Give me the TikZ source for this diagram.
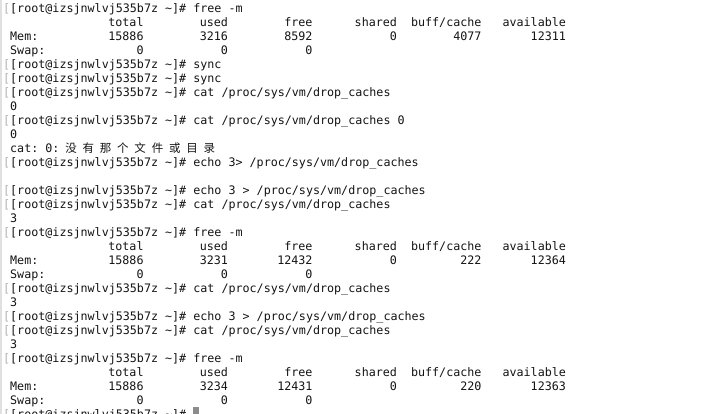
\documentclass[tikz,border=0pt]{standalone}
\usepackage{fontspec}
\setmonofont{DejaVu Sans Mono}
\newfontfamily\cjk{Noto Sans CJK SC}
\definecolor{txt}{RGB}{20,20,20}
\newcommand\pr{[root@izsjnwlvj535b7z \textasciitilde]\# }
\tikzset{ln/.style={anchor=base west,inner sep=0pt,font=\fontsize{11.7}{12}\ttfamily,text=txt},
 fld/.style={anchor=base east,inner sep=0pt,font=\fontsize{11.7}{12}\ttfamily,text=txt},
 gb/.style={anchor=base west,inner sep=0pt,font=\fontsize{11.7}{12}\ttfamily,text=black!30}}
\begin{document}
\begin{tikzpicture}[x=1pt,y=-1pt]
\useasboundingbox[fill=white] (0,0) rectangle (704,414);
\fill[black!12] (0,0) rectangle (1.5,414);
\def\Y#1{12.5+14.0*(#1)}
\def\X#1{10+7.04*(#1)}
% prompt lines
\foreach \i/\c [count=\k] in {0/free -m,4/sync,5/sync,6/{cat /proc/sys/vm/drop\_caches},8/{cat /proc/sys/vm/drop\_caches 0},11/{echo 3> /proc/sys/vm/drop\_caches},13/{echo 3 > /proc/sys/vm/drop\_caches},14/{cat /proc/sys/vm/drop\_caches},16/free -m,20/{cat /proc/sys/vm/drop\_caches},22/{echo 3 > /proc/sys/vm/drop\_caches},23/{cat /proc/sys/vm/drop\_caches},25/free -m,29/{}}{
  \node[gb] (g\k) at (3,{\Y{\i}}) {[};
  \node[ln] (p\k) at ({\X{0}},{\Y{\i}}) {\pr\c};
}
% single values
\foreach \i/\c [count=\k] in {7/0,9/0,15/3,21/3,24/3}{
  \node[ln] (v\k) at ({\X{0}},{\Y{\i}}) {\c};
}
\node[ln] (err) at ({\X{0}},{\Y{10}}) {cat: 0:};
\foreach \ch [count=\k from 0] in {没,有,那,个,文,件,或,目,录}{
  \node[inner sep=0pt,anchor=base,font=\cjk\fontsize{11.5}{12}\selectfont,text=txt] (c\k) at ({71+17.3*\k},{\Y{10}}) {\ch};
}
% free tables
\foreach \r/\u/\f/\b/\a [count=\t] in {1/3216/8592/4077/12311,17/3231/12432/222/12364,26/3234/12431/220/12363}{
  \foreach \w/\col [count=\j] in {total/19,used/31,free/43,shared/55,{buff/cache}/67,available/79}{
    \node[fld] (h\t-\j) at ({\X{\col}},{\Y{\r}}) {\w};
  }
  \node[ln] (m\t) at ({\X{0}},{\Y{\r+1}}) {Mem:};
  \foreach \w/\col [count=\j] in {15886/19,\u/31,\f/43,0/55,\b/67,\a/79}{
    \node[fld] (mv\t-\j) at ({\X{\col}},{\Y{\r+1}}) {\w};
  }
  \node[ln] (s\t) at ({\X{0}},{\Y{\r+2}}) {Swap:};
  \foreach \col [count=\j] in {19,31,43}{
    \node[fld] (sv\t-\j) at ({\X{\col}},{\Y{\r+2}}) {0};
  }
}
\fill[black!45] ({\X{26}},407) rectangle ({\X{27}-1},414);
\end{tikzpicture}
\end{document}
